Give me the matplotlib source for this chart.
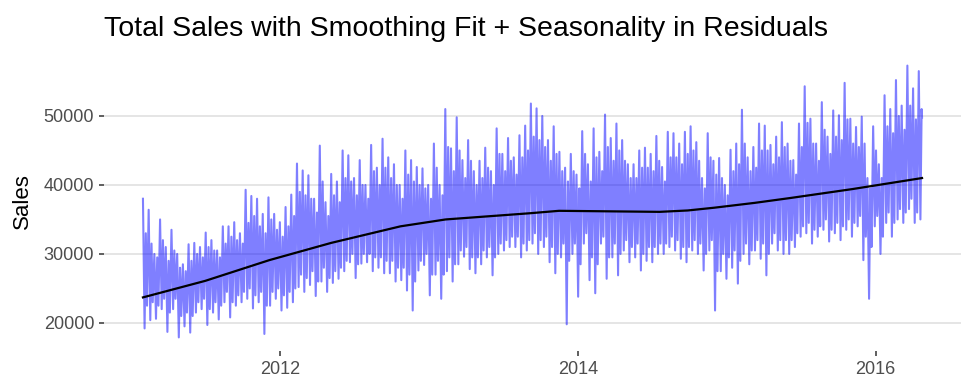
import numpy as np
import pandas as pd
import matplotlib
matplotlib.use("Agg")
import matplotlib.pyplot as plt
import matplotlib.dates as mdates

plt.rcParams['font.family'] = ['Liberation Sans', 'DejaVu Sans']

# total daily sales in two-week blocks:
# weekend peak, mid-week trough, second weekend, second mid-week
start = "2011-01-29"
block_offsets = [0, 4, 7, 10]   # days into each block
peaks = [38000, 36400, 30000, 35000, 31000, 33500, 30000, 28500, 31400, 31600,
         31000, 33100, 32000, 30500, 34000, 34000, 34600, 33000, 39300, 38400,
         38000, 35800, 38200, 35800, 34600, 36800, 38600, 43100, 42100, 41400,
         38000, 45700, 37500, 41600, 40500, 45000, 44300, 41000, 43600, 40000,
         45800, 42500, 46700, 44000, 43000, 40000, 45000, 43600, 42600, 42400,
         40000, 46000, 40000, 51000, 45300, 49800, 43600, 46500, 42000, 43500,
         45400, 42000, 48200, 44500, 46800, 44000, 47200, 48600, 51800, 51100,
         50000, 46500, 48500, 44800, 42500, 44500, 41500, 47800, 43000, 48200,
         44800, 50200, 46800, 48900, 46500, 43000, 43000, 45000, 45400, 44500,
         47100, 42600, 47700, 47500, 46000, 47700, 48500, 46200, 41000, 47500,
         43500, 43900, 40000, 45100, 46000, 50900, 44000, 45500, 48900, 48600,
         45800, 47000, 49100, 46000, 43600, 48900, 54300, 49600, 46000, 52000,
         47000, 50800, 50100, 54800, 49600, 48400, 49900, 41000, 48500, 43000,
         53000, 51000, 55200, 51500, 57300, 54000, 56500]
troughs = [19200, 20400, 20600, 22000, 18700, 22000, 17900, 19500, 18600, 21500,
           22000, 19700, 21500, 20500, 23000, 20800, 22500, 23000, 23500, 22100,
           23000, 18400, 22500, 23500, 21800, 22200, 23000, 25200, 24500, 25500,
           23900, 26000, 24500, 25800, 26400, 27500, 28800, 26500, 28600, 28800,
           27500, 28000, 27200, 27200, 26000, 26200, 24700, 21800, 27600, 28400,
           24000, 27000, 23500, 27500, 26000, 28500, 29600, 27800, 27200, 28500,
           29500, 26900, 30000, 30500, 31000, 31000, 29500, 30500, 31500, 30000,
           31000, 28800, 27200, 29500, 19800, 30000, 23800, 31500, 26200, 24300,
           31500, 26400, 29500, 26900, 30500, 28800, 29500, 27600, 29000, 28800,
           30000, 30000, 31000, 30500, 29300, 28800, 30500, 30000, 27600, 30500,
           21800, 27500, 26400, 28000, 25700, 30000, 28500, 30500, 29300, 26900,
           31500, 30500, 30000, 30000, 31000, 32500, 33000, 31500, 32500, 33500,
           31800, 33000, 32000, 33500, 32500, 34000, 29100, 23500, 34000, 30000,
           34500, 32500, 35000, 34500, 36500, 34500, 35000]
peaks2 = [33000, 31500, 29500, 32000, 29000, 30500, 28000, 27500, 29000, 30000,
          29500, 31000, 30500, 29500, 31500, 32500, 32000, 31500, 34500, 35500,
          34000, 33000, 35000,
          33500, 32500, 34000, 35500, 39000, 38500, 38000, 36000, 40500, 35500,
          38500, 37500, 41000, 40500, 38500, 40000, 38000, 42000, 40000, 42500,
          41000, 40000, 38000,
          41500, 40500, 40000, 39500, 38000, 42500, 38500, 45500, 42000, 45000,
          41000, 43500, 40000, 41000, 42500, 40000, 44500, 42000, 43500, 41500,
          44000, 45000,
          47000, 46500, 45500, 43500, 44500, 42000, 40500, 42000, 39500, 44500,
          40500, 44000, 42000, 45500, 43500, 45000, 43500, 41000, 41000, 42500,
          42500, 42000, 43500,
          40500, 44000, 44000, 43000, 44500, 45000, 43500, 39500, 44000, 41500,
          41000, 38500, 42000, 43000, 46000, 42000, 42500, 45000, 45000, 43000,
          44000, 45500, 43500,
          41500, 45500, 49000, 46000, 43500, 48000, 44500, 47000, 46500, 49500,
          46000, 45500, 46000, 39500, 45000, 41000, 48500, 47500, 50000, 48000,
          51500, 49500, 51000]
troughs2 = [22500, 23000, 22500, 23500, 21500, 23500, 21000, 21500, 21000, 23000,
            23500, 22000, 23000, 22500, 24500, 23000, 24000, 24500, 25000, 24000,
            24500, 22500, 24500,
            25000, 24000, 24500, 25000, 27000, 26500, 27500, 26000, 28000, 26500,
            27500, 28000, 29000, 30000, 28500, 30000, 30000, 29500, 29500, 29000,
            29000, 28000, 28000,
            27000, 26000, 29000, 30000, 27000, 29000, 27000, 29500, 28500, 30500,
            31000, 29500, 29500, 30500, 31000, 29500, 31500, 32000, 32500, 32500,
            31500, 32000,
            33000, 32000, 32500, 31000, 30000, 31500, 29000, 31500, 28500, 33000,
            29500, 28500, 32500, 29500, 31500, 30000, 32000, 31000, 31500, 30000,
            31000, 31000, 31500,
            31500, 32500, 32000, 31000, 31000, 32000, 31500, 30000, 32000, 27500,
            30000, 29500, 30500, 29000, 31500, 30500, 32000, 31500, 30000, 33000,
            32000, 32000, 32000,
            33000, 34000, 34500, 33500, 34000, 35000, 33500, 34500, 34000, 35000,
            34500, 35500, 32500, 31000, 35500, 32500, 36000, 34500, 36500, 36000,
            38000, 36000, 36500]
last_date = "2016-04-24"
last_value = 49800

# smoothing fit
smooth_dates = ["2011-01-29", "2011-07-01", "2011-12-05", "2012-05-05", "2012-10-22",
                "2013-02-10", "2013-09-05", "2013-11-15", "2014-07-20", "2014-09-27",
                "2014-12-01", "2015-03-10", "2015-06-05", "2015-11-05", "2016-04-24"]
smooth_values = [23700, 26100, 29100, 31600, 34000, 35000, 35900, 36250, 36100, 36300,
                 36700, 37400, 38100, 39400, 41000]

n_blocks = len(peaks)
day = (np.arange(n_blocks)[:, None] * 14 + np.array(block_offsets)[None, :]).ravel()
sales = np.column_stack([peaks, troughs, peaks2, troughs2]).ravel()
dates = pd.Timestamp(start) + pd.to_timedelta(day, unit="D")
keep = dates < pd.Timestamp(last_date)
dates = dates[keep].append(pd.DatetimeIndex([last_date]))
sales = np.append(sales[keep], last_value)

fig = plt.figure(figsize=(9.65, 3.9), dpi=100)
ax = fig.add_axes([104 / 965, 1 - 351 / 390, 857 / 965, 299 / 390])

ax.plot(dates, sales, color='blue', alpha=0.5, lw=1.5)
ax.plot(pd.to_datetime(smooth_dates), smooth_values, color='black', lw=1.6)

for s in ax.spines.values():
    s.set_visible(False)
ax.set_axisbelow(True)
ax.grid(axis='y', color='#DEDEDE', lw=1.1)
ax.set_yticks([20000, 30000, 40000, 50000])
ax.xaxis.set_major_locator(mdates.YearLocator(2))
ax.xaxis.set_major_formatter(mdates.DateFormatter('%Y'))
ax.tick_params(axis='both', colors='#333333', labelcolor='#4D4D4D',
               labelsize=13, width=1.1, length=3.5, pad=3.5)

fig.text(104 / 965, 1 - 36 / 390, "Total Sales with Smoothing Fit + Seasonality in Residuals",
         fontsize=20.5, ha='left', va='baseline')
fig.text(22 / 965, 1 - 201.5 / 390, "Sales", fontsize=16, rotation=90,
         ha='center', va='center')

fig.savefig("out.png", dpi=100)
